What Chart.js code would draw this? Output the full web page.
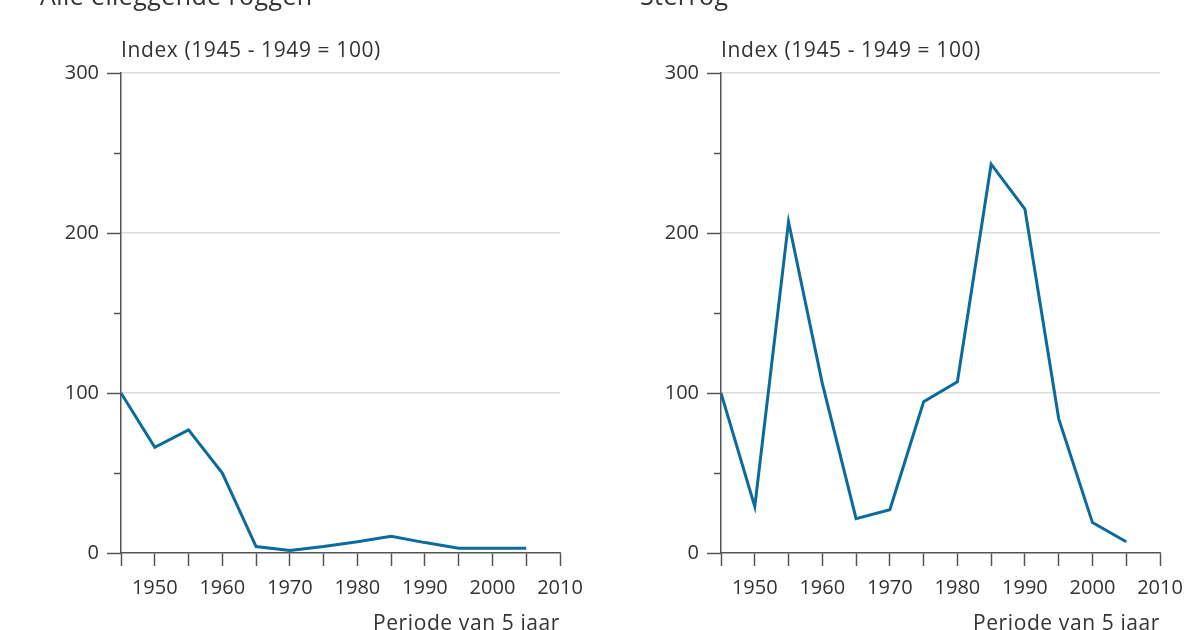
<!DOCTYPE html>
<html>
<head>
<meta charset="utf-8">
<script src="https://cdn.jsdelivr.net/npm/chart.js@4"></script>
<style>
  html, body { margin: 0; padding: 0; background: #fff; }
  body { width: 1200px; height: 630px; position: relative; overflow: hidden; font-family: "Open Sans", sans-serif; color: #333; }
  .panel { position: absolute; top: 0; width: 600px; height: 630px; }
  .panel canvas { position: absolute; left: 0; top: 0; }
  .title { position: absolute; left: 40px; top: -17px; font-size: 25px; line-height: 25px; letter-spacing: 0.4px; white-space: nowrap; }
  .ytitle { position: absolute; left: 121px; top: 37px; font-size: 21px; line-height: 24px; letter-spacing: 0.6px; white-space: nowrap; }
  .xtitle { position: absolute; right: 40px; top: 610px; font-size: 21px; line-height: 24px; letter-spacing: 0.6px; white-space: nowrap; }
</style>
</head>
<body>
<div class="panel" style="left:0">
  <canvas id="chart-alle" width="600" height="630"></canvas>
  <div class="title">Alle eileggende roggen</div>
  <div class="ytitle">Index (1945 - 1949 = 100)</div>
  <div class="xtitle">Periode van 5 jaar</div>
</div>
<div class="panel" style="left:600px">
  <canvas id="chart-sterrog" width="600" height="630"></canvas>
  <div class="title">Sterrog</div>
  <div class="ytitle">Index (1945 - 1949 = 100)</div>
  <div class="xtitle">Periode van 5 jaar</div>
</div>

<script>
// data
const jaren = [1945, 1950, 1955, 1960, 1965, 1970, 1975, 1980, 1985, 1990, 1995, 2000, 2005];
const alleRoggen = [100, 66, 77, 50, 4, 1.5, 4, 7, 10.5, 6.5, 3, 3, 3];
const sterrog = [100, 29, 207, 106, 21.5, 27, 94.5, 107, 243, 215, 84, 19, 7];
const yTicks = [0, 50, 100, 150, 200, 250, 300];

const lijnKleur = '#0b6b9c';
const asKleur = '#555';
const tekstKleur = '#333';

// eigen tick-streepjes op de y-as (lang bij 100-tallen, kort ertussen)
const yTickPlugin = {
  id: 'yTickMarks',
  afterDraw(chart) {
    const y = chart.scales.y;
    const ctx = chart.ctx;
    const links = chart.chartArea.left;
    ctx.save();
    ctx.strokeStyle = asKleur;
    ctx.lineWidth = 1.5;
    yTicks.forEach(v => {
      const len = v % 100 === 0 ? 14 : 7;
      const py = Math.round(y.getPixelForValue(v)) + 0.5;
      ctx.beginPath();
      ctx.moveTo(links - len, py);
      ctx.lineTo(links, py);
      ctx.stroke();
    });
    ctx.restore();
  }
};

function maakGrafiek(id, waarden) {
  const ctx = document.getElementById(id).getContext('2d');
  return new Chart(ctx, {
    type: 'line',
    data: {
      datasets: [{
        data: jaren.map((j, i) => ({ x: j, y: waarden[i] })),
        borderColor: lijnKleur,
        borderWidth: 3,
        pointRadius: 0,
        tension: 0,
        fill: false
      }]
    },
    options: {
      responsive: false,
      animation: false,
      layout: { padding: { left: 0, top: 73, right: 40, bottom: 0 } },
      plugins: { legend: { display: false }, tooltip: { enabled: false } },
      scales: {
        x: {
          type: 'linear',
          min: 1945,
          max: 2010,
          afterFit: s => { s.height = 77; },
          ticks: {
            stepSize: 5,
            autoSkip: false,
            maxRotation: 0,
            padding: 10,
            color: tekstKleur,
            font: { family: 'Open Sans', size: 20 },
            callback: v => (v % 10 === 0 ? String(v) : '')
          },
          grid: {
            drawOnChartArea: false,
            drawTicks: true,
            tickLength: 13,
            tickColor: asKleur,
            tickWidth: 1.5
          },
          border: { display: true, color: asKleur, width: 1.5 }
        },
        y: {
          min: 0,
          max: 300,
          afterFit: s => { s.width = 121; },
          ticks: {
            stepSize: 50,
            padding: 8,
            color: tekstKleur,
            font: { family: 'Open Sans', size: 20 },
            callback: v => (v % 100 === 0 ? String(v) : '')
          },
          grid: {
            drawTicks: true,
            tickLength: 14,
            tickColor: 'transparent',
            color: c => (c.tick && c.tick.value > 0 && c.tick.value % 100 === 0 ? '#dddddd' : 'transparent'),
            lineWidth: 1.5
          },
          border: { display: true, color: asKleur, width: 1.5 }
        }
      }
    },
    plugins: [yTickPlugin]
  });
}

maakGrafiek('chart-alle', alleRoggen);
maakGrafiek('chart-sterrog', sterrog);
</script>
</body>
</html>
